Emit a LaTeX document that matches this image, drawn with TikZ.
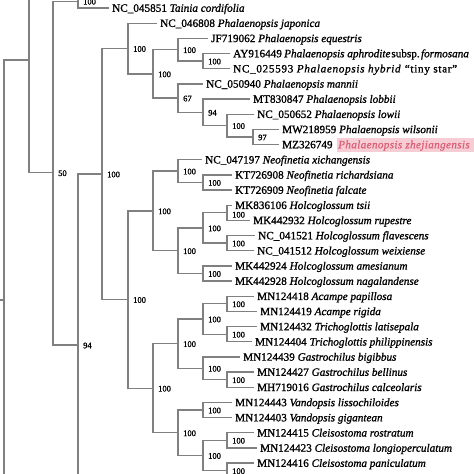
\documentclass[tikz,border=0pt]{standalone}
\usepackage{fontspec}
\setmainfont{Liberation Serif}[FakeBold=1.2]
\newfontfamily\widefont{Liberation Serif}[LetterSpace=6,FakeBold=1.2]
\newfontfamily\hlfont{Liberation Serif}[LetterSpace=3,FakeBold=0.8]
\definecolor{branch}{HTML}{808080}
\definecolor{hlbg}{HTML}{F6CDD5}
\definecolor{hltext}{HTML}{DB5F75}
\begin{document}
\begin{tikzpicture}[x=1pt,y=-1pt,
  br/.style={draw=branch,line width=1.3pt},
  leaf/.style={anchor=west,inner xsep=3pt,inner ysep=0pt,text height=7.5pt,text depth=0pt,font=\fontsize{11.2}{12}\selectfont},
  bs/.style={anchor=west,inner sep=0pt,text height=5.5pt,text depth=0pt,font=\fontsize{8.5}{9}\selectfont}]
\useasboundingbox (0,0) rectangle (474,474);
\clip (0,0) rectangle (474,474);
\fill[hlbg] (337,137.5) rectangle (474,152);
% internal nodes
\coordinate (R) at (4,300);
\coordinate (R0) at (0,300);
\coordinate (Rb) at (29,540);
\coordinate (N29) at (29,60);
\coordinate (T29) at (53,-53);
\coordinate (B) at (53,172.75);
\coordinate (A) at (78,1.2);
\coordinate (C) at (78,345);
\coordinate (Cb) at (102,516);
\coordinate (D) at (102,174);
\coordinate (E) at (128,48.5);
\coordinate (F) at (128,299.55);
\coordinate (G) at (153,73.9);
\coordinate (H) at (178,49.7);
\coordinate (I) at (203,61.1);
\coordinate (J) at (178,98.1);
\coordinate (K) at (203,112.3);
\coordinate (L) at (227,125.6);
\coordinate (M) at (253,136.95);
\coordinate (O) at (178,171.1);
\coordinate (N) at (203,182.45);
\coordinate (Q) at (227,212.8);
\coordinate (Rr) at (227,243.1);
\coordinate (P) at (203,227.95);
\coordinate (S) at (203,273.5);
\coordinate (T) at (178,250.7);
\coordinate (U) at (153,210.9);
\coordinate (Ya) at (227,303.8);
\coordinate (Yb) at (227,334.2);
\coordinate (Z) at (203,319);
\coordinate (AA) at (227,379.7);
\coordinate (AB) at (203,368.3);
\coordinate (W) at (178,343.65);
\coordinate (AC) at (203,410);
\coordinate (AE) at (227,440.3);
\coordinate (AF) at (227,470.7);
\coordinate (AD) at (203,455.5);
\coordinate (X) at (178,432.8);
\coordinate (V) at (153,388.2);
\coordinate (lm1) at (102,-7.17);
\coordinate (l31) at (254,478.27);
% leaves
\node[leaf] (l0) at (109,8) {NC\_045851 \textit{Tainia cordifolia}};
\node[leaf] (l1) at (157,23.17) {NC\_046808 \textit{Phalaenopsis japonica}};
\node[leaf] (l2) at (208,38.34) {JF719062 \textit{Phalaenopsis equestris}};
\node[leaf] (l3) at (230,53.51) {AY916449\hspace{0.2em}\textit{Phalaenopsis aphrodite}\hspace{0.08em}subsp.\hspace{0.12em}\textit{formosana}};
\node[leaf] (l4) at (230,68.68) {\widefont NC\_025593 \textit{Phalaenopsis hybrid} “tiny star”};
\node[leaf] (l5) at (203,83.85) {NC\_050940 \textit{Phalaenopsis mannii}};
\node[leaf] (l6) at (250,99.02) {MT830847 \textit{Phalaenopsis lobbii}};
\node[leaf] (l7) at (254,114.19) {NC\_050652 \textit{Phalaenopsis lowii}};
\node[leaf] (l8) at (279,129.36) {MW218959 \textit{Phalaenopsis wilsonii}};
\node[leaf] (l9) at (279,144.53) {MZ326749\hspace{0.5em}\textcolor{hltext}{\hlfont\itshape Phalaenopsis zhejiangensis}};
\node[leaf] (l10) at (202,159.7) {NC\_047197 \textit{Neofinetia xichangensis}};
\node[leaf] (l11) at (232,174.87) {KT726908 \textit{Neofinetia richardsiana}};
\node[leaf] (l12) at (232,190.04) {KT726909 \textit{Neofinetia falcate}};
\node[leaf] (l13) at (232,205.21) {MK836106 \textit{Holcoglossum tsii}};
\node[leaf] (l14) at (250,220.38) {MK442932 \textit{Holcoglossum rupestre}};
\node[leaf] (l15) at (255,235.55) {NC\_041521 \textit{Holcoglossum flavescens}};
\node[leaf] (l16) at (254,250.72) {NC\_041512 \textit{Holcoglossum weixiense}};
\node[leaf] (l17) at (232,265.89) {MK442924 \textit{Holcoglossum amesianum}};
\node[leaf] (l18) at (232,281.06) {MK442928 \textit{Holcoglossum nagalandense}};
\node[leaf] (l19) at (254,296.23) {MN124418 \textit{Acampe papillosa}};
\node[leaf] (l20) at (257,311.4) {MN124419 \textit{Acampe rigida}};
\node[leaf] (l21) at (257,326.57) {MN124432 \textit{Trichoglottis latisepala}};
\node[leaf] (l22) at (252,341.74) {MN124404 \textit{Trichoglottis philippinensis}};
\node[leaf] (l23) at (240,356.91) {MN124439 \textit{Gastrochilus bigibbus}};
\node[leaf] (l24) at (254,372.08) {MN124427 \textit{Gastrochilus bellinus}};
\node[leaf] (l25) at (254,387.25) {MH719016 \textit{Gastrochilus calceolaris}};
\node[leaf] (l26) at (232,402.42) {MN124443 \textit{Vandopsis lissochiloides}};
\node[leaf] (l27) at (232,417.59) {MN124403 \textit{Vandopsis gigantean}};
\node[leaf] (l28) at (254,432.76) {MN124415 \textit{Cleisostoma rostratum}};
\node[leaf] (l29) at (257,447.93) {MN124423 \textit{Cleisostoma longioperculatum}};
\node[leaf] (l30) at (254,463.1) {MN124416 \textit{Cleisostoma paniculatum}};
% branches
\draw[br] (R0) -- (R);
\draw[br] (R) |- (N29);
\draw[br] (R) |- (Rb);
\draw[br] (N29) |- (T29);
\draw[br] (N29) |- (B);
\draw[br] (B) |- (A);
\draw[br] (B) |- (C);
\draw[br] (A) |- (lm1);
\draw[br] (A) |- (l0.west);
\draw[br] (C) |- (D);
\draw[br] (C) |- (Cb);
\draw[br] (D) |- (E);
\draw[br] (D) |- (F);
\draw[br] (E) |- (l1.west);
\draw[br] (E) |- (G);
\draw[br] (G) |- (H);
\draw[br] (G) |- (J);
\draw[br] (H) |- (l2.west);
\draw[br] (H) |- (I);
\draw[br] (I) |- (l3.west);
\draw[br] (I) |- (l4.west);
\draw[br] (J) |- (l5.west);
\draw[br] (J) |- (K);
\draw[br] (K) |- (l6.west);
\draw[br] (K) |- (L);
\draw[br] (L) |- (l7.west);
\draw[br] (L) |- (M);
\draw[br] (M) |- (l8.west);
\draw[br] (M) |- (l9.west);
\draw[br] (F) |- (U);
\draw[br] (F) |- (V);
\draw[br] (U) |- (O);
\draw[br] (U) |- (T);
\draw[br] (O) |- (l10.west);
\draw[br] (O) |- (N);
\draw[br] (N) |- (l11.west);
\draw[br] (N) |- (l12.west);
\draw[br] (T) |- (P);
\draw[br] (T) |- (S);
\draw[br] (P) |- (Q);
\draw[br] (P) |- (Rr);
\draw[br] (Q) |- (l13.west);
\draw[br] (Q) |- (l14.west);
\draw[br] (Rr) |- (l15.west);
\draw[br] (Rr) |- (l16.west);
\draw[br] (S) |- (l17.west);
\draw[br] (S) |- (l18.west);
\draw[br] (V) |- (W);
\draw[br] (V) |- (X);
\draw[br] (W) |- (Z);
\draw[br] (W) |- (AB);
\draw[br] (Z) |- (Ya);
\draw[br] (Z) |- (Yb);
\draw[br] (Ya) |- (l19.west);
\draw[br] (Ya) |- (l20.west);
\draw[br] (Yb) |- (l21.west);
\draw[br] (Yb) |- (l22.west);
\draw[br] (AB) |- (l23.west);
\draw[br] (AB) |- (AA);
\draw[br] (AA) |- (l24.west);
\draw[br] (AA) |- (l25.west);
\draw[br] (X) |- (AC);
\draw[br] (X) |- (AD);
\draw[br] (AC) |- (l26.west);
\draw[br] (AC) |- (l27.west);
\draw[br] (AD) |- (AE);
\draw[br] (AD) |- (AF);
\draw[br] (AE) |- (l28.west);
\draw[br] (AE) |- (l29.west);
\draw[br] (AF) |- (l30.west);
\draw[br] (AF) |- (l31);
% bootstrap labels
\foreach \n/\v in {A/100,B/50,C/94,D/100,E/100,F/100,G/100,H/100,I/100,J/67,K/94,L/100,M/97,O/100,N/100,Rr/100,P/100,S/100,T/100,U/100,Ya/100,Yb/100,Z/100,AA/100,AB/100,W/100,AC/100,AE/100,AF/100,AD/100,X/100,V/100}
  \node[bs] (b\n) at ([xshift=5pt,yshift=-0.5pt]\n) {\v};
\node[bs] (bQ) at ([xshift=5pt,yshift=-2pt]Q) {100};
\end{tikzpicture}
\end{document}
